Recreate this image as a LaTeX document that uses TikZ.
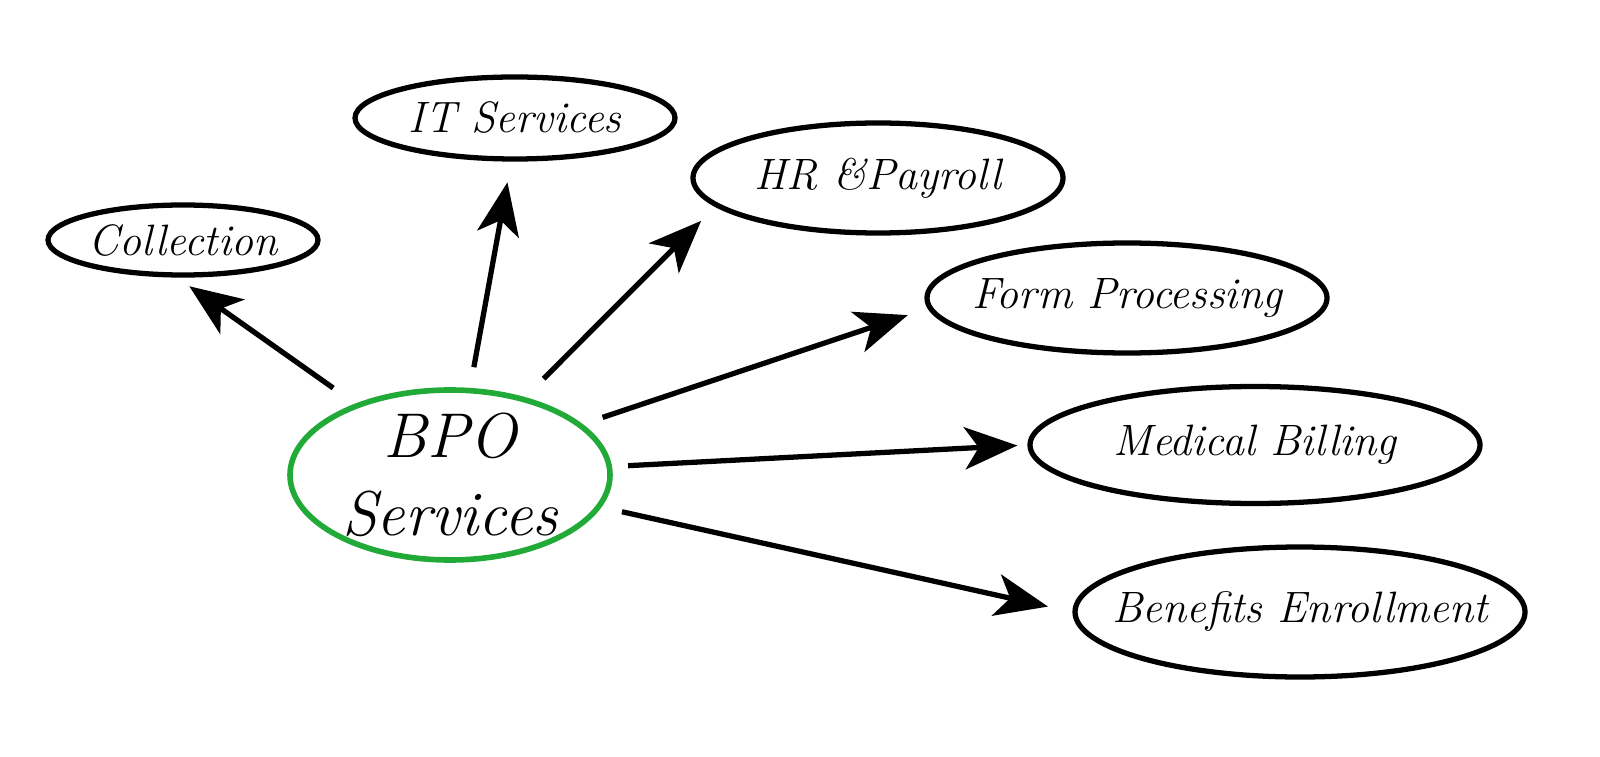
\documentclass[tikz,border=0pt]{standalone}
\usetikzlibrary{shapes.geometric,arrows.meta}
\definecolor{bpogreen}{RGB}{34,170,56}
\tikzset{
  oval/.style={ellipse,draw=black,line width=1.5pt,inner sep=0pt},
  txt/.style={font=\fontsize{12.5}{15}\selectfont\itshape},
  arr/.style={-{Stealth[length=15pt,width=12pt,inset=4pt]},line width=1.5pt},
}
\begin{document}
\begin{tikzpicture}
\useasboundingbox (0,0) rectangle (16,7.56);
% centre
\node[oval,draw=bpogreen,line width=1.6pt,minimum width=3.2cm,minimum height=1.7cm] (bpo) at (4.50,2.81) {};
\node[align=center,font=\fontsize{18}{22}\selectfont\itshape] (bpo-t) at (bpo) {BPO\\Services};
% services
\foreach \n/\x/\y/\w/\h/\t in {coll/1.83/5.16/2.7/0.7/Collection,
    it/5.15/6.38/3.2/0.82/IT Services,
    hr/8.78/5.78/3.7/1.1/HR \&Payroll,
    form/11.27/4.58/4.0/1.1/Form Processing,
    med/12.55/3.11/4.5/1.17/Medical Billing,
    ben/13.00/1.44/4.5/1.3/Benefits Enrollment}{
    \node[oval,minimum width=\w cm,minimum height=\h cm] (\n) at (\x,\y) {};
    \node[txt] (\n-t) at (\n) {\t};
}
% arrows
\draw[arr,shorten <=0.27cm,shorten >=0.15cm] (bpo.143) -- (coll.-99);
\draw[arr,shorten <=0.21cm,shorten >=0.21cm] (bpo.77) -- (it.-95);
\draw[arr,shorten <=0.26cm,shorten >=0.20cm] (bpo.46) -- (hr.190);
\draw[arr,shorten <=0.21cm,shorten >=0.21cm] (bpo.21) -- (form.183);
\draw[arr,shorten <=0.16cm,shorten >=0.10cm] (bpo.3) -- (med.180);
\draw[arr,shorten <=0.21cm,shorten >=0.25cm] (bpo.-12) -- (ben.180);
\end{tikzpicture}
\end{document}
